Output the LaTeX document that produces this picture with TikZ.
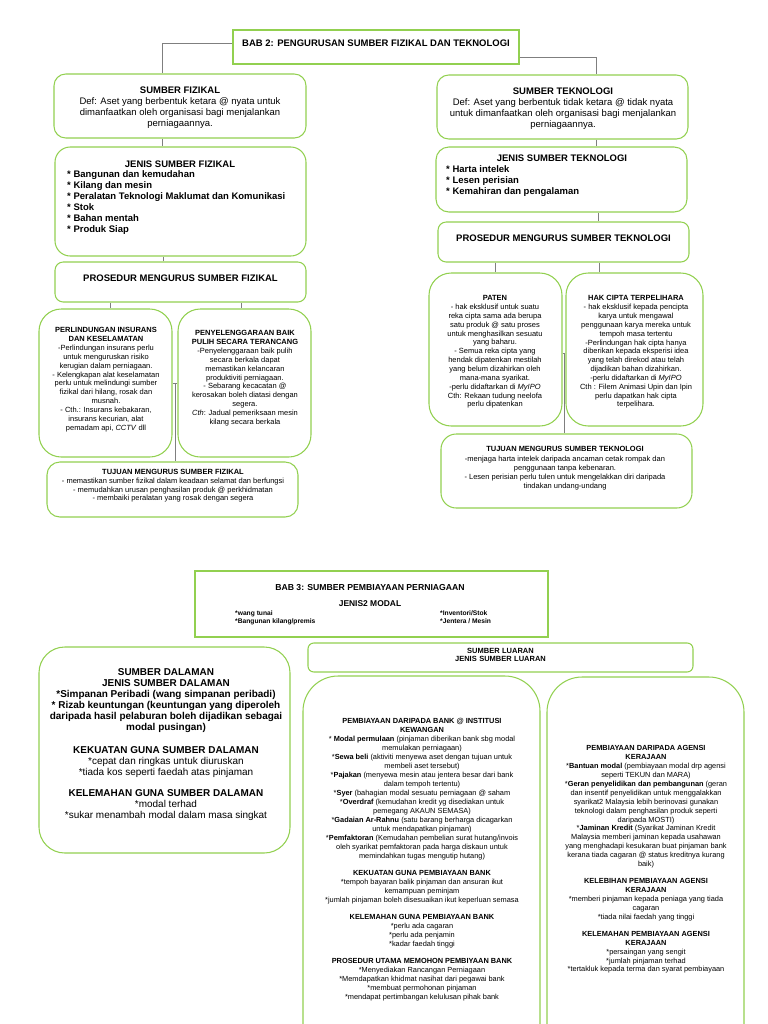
\documentclass[tikz,border=0pt]{standalone}
\usepackage{fontspec}
\setmainfont{Liberation Sans}
\usetikzlibrary{positioning, fit, calc}
\definecolor{leafg}{HTML}{92D050}
\definecolor{wire}{HTML}{7F7F7F}
\newcommand{\ftop}{\fontsize{8.1}{9.4}\selectfont}
\newcommand{\fsml}{\fontsize{6.4}{7.55}\selectfont}
\newcommand{\fdal}{\fontsize{8.5}{9.4}\selectfont}
\tikzset{
  box/.style={draw=leafg, line width=0.9pt, rounded corners=#1, inner sep=0pt},
  box/.default=10pt,
  sqbox/.style={draw=leafg, line width=0.9pt, inner sep=0pt},
  conn/.style={draw=wire, line width=0.8pt},
  txt/.style={align=center, inner sep=0pt, anchor=north},
  lst/.style={align=left, inner sep=0pt, anchor=north west},
}

\begin{document}
\begin{tikzpicture}[x=0.03cm, y=-0.03cm]
\useasboundingbox (0,0) rectangle (768,1024);
\clip (0,0) rectangle (768,1024);

% bab 2
\node[sqbox, fit={(233,30) (519,64)}, font=\ftop\bfseries] (bab2) {BAB 2: PENGURUSAN SUMBER FIZIKAL DAN TEKNOLOGI};

% sumber fizikal
\node[box=10pt, fit={(54,74) (306,138)}] (sf) {};
\node[txt, font=\ftop] (sfT) at (180,86.5) {\textbf{SUMBER FIZIKAL}\\Def: Aset yang berbentuk ketara @ nyata untuk\\dimanfaatkan oleh organisasi bagi menjalankan\\perniagaannya.};
\node[box=13pt, fit={(55,147) (306,256)}] (jf) {};
\node[txt, font=\ftop\bfseries] (jfH) at (180,160.5) {JENIS SUMBER FIZIKAL};
\node[lst, font=\ftop\bfseries] (jfL) at (67,170.5) {* Bangunan dan kemudahan\\* Kilang dan mesin\\* Peralatan Teknologi Maklumat dan Komunikasi\\* Stok\\* Bahan mentah\\* Produk Siap};
\node[box=7pt, fit={(55,262) (306,302)}, font=\ftop\bfseries] (pf) {PROSEDUR MENGURUS SUMBER FIZIKAL};
\node[box=19pt, fit={(39,309) (172,457)}] (perl) {};
\node[txt, font=\fsml] (perlT) at (106,327.3) {\textbf{PERLINDUNGAN INSURANS}\\\textbf{DAN KESELAMATAN}\\-Perlindungan insurans perlu\\untuk menguruskan risiko\\kerugian dalam perniagaan.\\- Kelengkapan alat keselamatan\\perlu untuk melindungi sumber\\fizikal dari hilang, rosak dan\\musnah.\\- Cth.: Insurans kebakaran,\\insurans kecurian, alat\\pemadam api, \textit{CCTV} dll};
\node[box=19pt, fit={(178,309) (311,457)}] (pen) {};
\node[txt, font=\fsml] (penT) at (245,330.3) {\textbf{PENYELENGGARAAN BAIK}\\\textbf{PULIH SECARA TERANCANG}\\-Penyelenggaraan baik pulih\\secara berkala dapat\\memastikan kelancaran\\produktiviti perniagaan.\\- Sebarang kecacatan @\\kerosakan boleh diatasi dengan\\segera.\\\textit{Cth}: Jadual pemeriksaan mesin\\kilang secara berkala};
\node[box=11pt, fit={(47,462) (298,517)}] (tf) {};
\node[txt, font=\fontsize{6.4}{7.4}\selectfont] (tfT) at (173,469.3) {\textbf{TUJUAN MENGURUS SUMBER FIZIKAL}\\- memastikan sumber fizikal dalam keadaan selamat dan berfungsi\\- memudahkan urusan penghasilan produk @ perkhidmatan\\- membaiki peralatan yang rosak dengan segera};

% sumber teknologi
\node[box=10pt, fit={(437,75) (688,139)}] (st) {};
\node[txt, font=\ftop] (stT) at (563,87.5) {\textbf{SUMBER TEKNOLOGI}\\Def: Aset yang berbentuk tidak ketara @ tidak nyata\\untuk dimanfaatkan oleh organisasi bagi menjalankan\\perniagaannya.};
\node[box=11pt, fit={(436,147) (687,212)}] (jt) {};
\node[txt, font=\ftop\bfseries] (jtH) at (562,154.5) {JENIS SUMBER TEKNOLOGI};
\node[lst, font=\ftop\bfseries] (jtL) at (446,165.5) {* Harta intelek\\* Lesen perisian\\* Kemahiran dan pengalaman};
\node[box=7pt, fit={(438,222) (689,262)}, font=\ftop\bfseries] (pt) {PROSEDUR MENGURUS SUMBER TEKNOLOGI};
\node[box=19pt, fit={(429,273) (562,426)}] (paten) {};
\node[txt, font=\fsml] (patenT) at (495,295.3) {\textbf{PATEN}\\- hak eksklusif untuk suatu\\reka cipta sama ada berupa\\satu produk @ satu proses\\untuk menghasilkan sesuatu\\yang baharu.\\- Semua reka cipta yang\\hendak dipatenkan mestilah\\yang belum dizahirkan oleh\\mana-mana syarikat.\\-perlu didaftarkan di \textit{MyIPO}\\Cth: Rekaan tudung neelofa\\perlu dipatenkan};
\node[box=19pt, fit={(566,273) (703,426)}] (hak) {};
\node[txt, font=\fsml] (hakT) at (636,295.3) {\textbf{HAK CIPTA TERPELIHARA}\\- hak eksklusif kepada pencipta\\karya untuk mengawal\\penggunaan karya mereka untuk\\tempoh masa tertentu\\-Perlindungan hak cipta hanya\\diberikan kepada eksperisi idea\\yang telah direkod atau telah\\dijadikan bahan dizahirkan.\\-perlu didaftarkan di \textit{MyIPO}\\Cth : Filem Animasi Upin dan Ipin\\perlu dapatkan hak cipta\\terpelihara.};
\node[box=13pt, fit={(441,434) (692,508)}] (tt) {};
\node[txt, font=\fontsize{6.4}{7.9}\selectfont] (ttT) at (565,446.3) {\textbf{TUJUAN MENGURUS SUMBER TEKNOLOGI}\\-menjaga harta intelek daripada ancaman cetak rompak dan\\penggunaan tanpa kebenaran.\\- Lesen perisian perlu tulen untuk mengelakkan diri daripada\\tindakan undang-undang};

% connectors bab 2
\draw[conn] ($(bab2.west)+(0,-4)$) -| ($(sf.north)+(-18,0)$);
\draw[conn] ($(bab2.east)+(0,10)$) -| ($(st.north)+(33.5,0)$);
\coordinate (lx) at ($(sf.south)+(-18,0)$);
\draw[conn] (lx) -- (lx |- jf.north);
\coordinate (ly) at ($(jf.south)+(-17.5,0)$);
\draw[conn] (ly) -- (ly |- pf.north);
\coordinate (pa) at ($(perl.north)+(5,0)$);
\draw[conn] (pa |- pf.south) -- (pa);
\coordinate (pb) at ($(pen.north)+(-3,0)$);
\draw[conn] (pb |- pf.south) -- (pb);
\draw[conn] (perl.east) -- (pen.west);
\coordinate (mf) at ($(perl.east)!.5!(pen.west)$);
\draw[conn] (mf) -- (mf |- tf.north);
\coordinate (rx) at ($(st.south)+(34,0)$);
\draw[conn] (rx) -- (rx |- jt.north);
\coordinate (ry) at ($(jt.south)+(37,0)$);
\draw[conn] (ry) -- (ry |- pt.north);
\draw[conn] (paten.north |- pt.south) -- (paten.north);
\coordinate (hx) at ($(hak.north)+(-35,0)$);
\draw[conn] (hx |- pt.south) -- (hx);
\draw[conn] ($(paten.east)+(0,4)$) -- ($(hak.west)+(0,4)$);
\coordinate (mt) at ($(paten.east)!.5!(hak.west)+(0,4)$);
\draw[conn] (mt) -- (mt |- tt.north);

% bab 3
\node[sqbox, fit={(195,571) (548,637)}] (bab3) {};
\node[txt, font=\fontsize{7.4}{8}\selectfont\bfseries] (bab3T) at (370,584.2) {BAB 3: SUMBER PEMBIAYAAN PERNIAGAAN};
\node[txt, font=\fontsize{7.2}{8}\selectfont\bfseries] (modal) at (370,600.3) {JENIS2 MODAL};
\node[lst, font=\fontsize{5.7}{6.9}\selectfont\bfseries] (modalL) at (235,610.6) {{*}wang tunai\\{*}Bangunan kilang/premis};
\node[lst, font=\fontsize{5.7}{6.9}\selectfont\bfseries] (modalR) at (440,610.6) {{*}Inventori/Stok\\{*}Jentera / Mesin};

% sumber dalaman
\node[box=22pt, fit={(39,647) (290,853)}] (dal) {};
\node[txt, font=\fdal] (dalT) at (166,668.3) {\textbf{SUMBER DALAMAN}\\\textbf{JENIS SUMBER DALAMAN}\\\textbf{*Simpanan Peribadi (wang simpanan peribadi)}\\\textbf{* Rizab keuntungan (keuntungan yang diperoleh}\\\textbf{daripada hasil pelaburan boleh dijadikan sebagai}\\\textbf{modal pusingan)}\\[10pt]\textbf{KEKUATAN GUNA SUMBER DALAMAN}\\{*}cepat dan ringkas untuk diuruskan\\{*}tiada kos seperti faedah atas pinjaman\\[9pt]\textbf{KELEMAHAN GUNA SUMBER DALAMAN}\\{*}modal terhad\\{*}sukar menambah modal dalam masa singkat};

% sumber luaran
\node[box=5pt, fit={(308,643) (693,672)}, align=center, font=\fontsize{6.4}{7}\selectfont\bfseries] (lu) {SUMBER LUARAN\\JENIS SUMBER LUARAN};
\node[box=30pt, fit={(303,676) (540,1080)}] (bank) {};
\node[txt, font=\fontsize{6.3}{7.66}\selectfont] (bankT) at (422,718.4) {\textbf{PEMBIAYAAN DARIPADA BANK @ INSTITUSI}\\
\textbf{KEWANGAN}\\
{*} \textbf{Modal permulaan} (pinjaman diberikan bank sbg modal\\
memulakan perniagaan)\\
{*}\textbf{Sewa beli} (aktiviti menyewa aset dengan tujuan untuk\\
membeli aset tersebut)\\
{*}\textbf{Pajakan} (menyewa mesin atau jentera besar dari bank\\
dalam tempoh tertentu)\\
{*}\textbf{Syer} (bahagian modal sesuatu perniagaan @ saham\\
{*}\textbf{Overdraf} (kemudahan kredit yg disediakan untuk\\
pemegang AKAUN SEMASA)\\
{*}\textbf{Gadaian Ar-Rahnu} (satu barang berharga dicagarkan\\
untuk mendapatkan pinjaman)\\
{*}\textbf{Pemfaktoran} (Kemudahan pembelian surat hutang/invois\\
oleh syarikat pemfaktoran pada harga diskaun untuk\\
memindahkan tugas mengutip hutang)\\[7pt]
\textbf{KEKUATAN GUNA PEMBIAYAAN BANK}\\
{*}tempoh bayaran balik pinjaman dan ansuran ikut\\
kemampuan peminjam\\
{*}jumlah pinjaman boleh disesuaikan ikut keperluan semasa\\[7pt]
\textbf{KELEMAHAN GUNA PEMBIAYAAN BANK}\\
{*}perlu ada cagaran\\
{*}perlu ada penjamin\\
{*}kadar faedah tinggi\\[7pt]
\textbf{PROSEDUR UTAMA MEMOHON PEMBIYAAN BANK}\\
{*}Menyediakan Rancangan Perniagaan\\
{*}Memdapatkan khidmat nasihat dari pegawai bank\\
{*}membuat permohonan pinjaman\\
{*}mendapat pertimbangan kelulusan pihak bank};
\node[box=30pt, fit={(547,677) (744,1080)}] (age) {};
\node[txt, font=\fontsize{6.3}{7.6}\selectfont] (ageT) at (646,745.4) {\textbf{PEMBIAYAAN DARIPADA AGENSI}\\
\textbf{KERAJAAN}\\
{*}\textbf{Bantuan modal} (pembiayaan modal drp agensi\\
seperti TEKUN dan MARA)\\
{*}\textbf{Geran penyelidikan dan pembangunan} (geran\\
dan insentif penyelidikan untuk menggalakkan\\
syarikat2 Malaysia lebih berinovasi gunakan\\
teknologi dalam penghasilan produk seperti\\
daripada MOSTI)\\
{*}\textbf{Jaminan Kredit} (Syarikat Jaminan Kredit\\
Malaysia memberi jaminan kepada usahawan\\
yang menghadapi kesukaran buat pinjaman bank\\
kerana tiada cagaran @ status kreditnya kurang\\
baik)\\[7pt]
\textbf{KELEBIHAN PEMBIAYAAN AGENSI}\\
\textbf{KERAJAAN}\\
{*}memberi pinjaman kepada peniaga yang tiada\\
cagaran\\
{*}tiada nilai faedah yang tinggi\\[7pt]
\textbf{KELEMAHAN PEMBIAYAAN AGENSI}\\
\textbf{KERAJAAN}\\
{*}persaingan yang sengit\\
{*}jumlah pinjaman terhad\\
{*}tertakluk kepada terma dan syarat pembiayaan};
\end{tikzpicture}
\end{document}
